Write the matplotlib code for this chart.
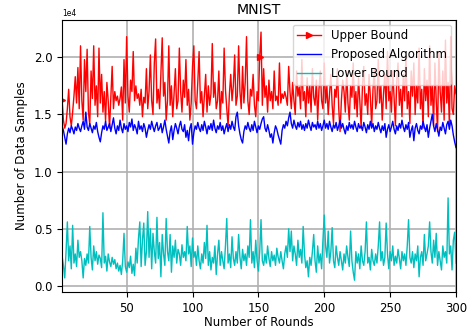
import numpy as np
from matplotlib import pyplot as plt

# values, in units of 1e4 samples
upper = [1.63, 1.45, 1.38, 1.42, 1.55, 1.72, 1.48, 1.40, 1.52, 1.66, 1.83, 1.60, 1.91, 1.55, 2.10, 1.62, 1.45, 1.98, 1.70, 2.07,
         1.52, 1.41, 1.88, 1.64, 2.10, 1.58, 1.75, 1.48, 2.08, 1.60, 1.85, 1.52, 1.70, 1.44, 1.78, 1.62, 1.38, 1.66, 1.92, 1.55,
         1.70, 1.62, 1.66, 1.58, 1.64, 1.74, 1.45, 1.98, 1.60, 2.18, 1.66, 1.52, 1.80, 1.70, 2.05, 1.62, 1.75, 1.64, 1.68, 1.58,
         1.72, 1.48, 1.65, 1.60, 1.90, 1.55, 1.70, 2.02, 1.62, 1.50, 1.95, 2.16, 1.60, 1.72, 1.55, 1.85, 2.17, 1.66, 1.78, 1.45,
         1.62, 2.10, 1.58, 1.75, 1.48, 1.68, 1.90, 1.55, 1.62, 2.08, 1.70, 1.52, 1.80, 1.65, 1.98, 1.58, 1.72, 1.45, 1.60, 1.92,
         2.10, 1.62, 1.55, 1.78, 2.05, 1.60, 1.70, 1.48, 1.66, 1.85, 1.52, 1.75, 1.58, 1.68, 2.12, 1.65, 1.78, 1.55, 1.62, 1.88,
         1.46, 1.70, 1.60, 2.08, 1.72, 1.55, 1.40, 1.68, 1.85, 1.62, 1.75, 2.02, 1.58, 1.66, 2.10, 1.70, 1.55, 1.92, 1.60, 1.78,
         2.18, 1.62, 1.50, 1.72, 1.66, 1.85, 1.58, 1.48, 1.70, 1.62, 2.00, 2.22, 1.58, 1.90, 1.65, 1.75, 1.52, 1.80, 1.62, 1.70,
         1.55, 1.88, 1.62, 1.66, 1.58, 1.95, 1.60, 1.68, 1.64, 1.70, 1.65, 1.58, 1.92, 1.70, 1.55, 1.78, 1.62, 1.50, 1.88, 1.66,
         1.74, 1.55, 1.98, 1.62, 1.70, 1.48, 1.82, 1.60, 1.75, 1.52, 1.90, 1.65, 1.58, 1.80, 1.45, 1.72, 1.88, 1.62, 1.55, 1.95,
         1.60, 1.75, 1.50, 1.68, 1.85, 1.58, 1.42, 1.72, 1.65, 1.90, 1.55, 1.35, 1.62, 1.80, 1.70, 1.52, 1.88, 1.60, 1.45, 1.75,
         1.65, 1.95, 1.55, 1.70, 1.48, 1.82, 1.62, 1.38, 1.75, 1.92, 1.58, 1.68, 1.50, 1.85, 1.65, 1.40, 1.72, 1.90, 1.55, 1.62,
         1.98, 1.60, 1.75, 1.45, 1.68, 1.85, 1.55, 2.05, 1.62, 1.70, 1.52, 1.88, 1.65, 1.40, 1.78, 1.95, 1.58, 1.72, 1.48, 1.85,
         1.62, 2.02, 1.55, 1.70, 1.42, 1.88, 1.66, 1.95, 1.50, 1.75, 1.60, 2.08, 1.55, 1.72, 1.38, 1.90, 1.62, 1.80, 1.48, 2.10,
         1.58, 1.75, 1.40, 1.95, 1.62, 1.35, 2.05, 1.70, 1.52, 1.88, 1.45, 2.15, 1.60, 1.78, 1.40, 2.18, 1.55, 1.50, 1.75, 1.68]

proposed = [1.40, 1.36, 1.30, 1.24, 1.33, 1.38, 1.34, 1.40, 1.37, 1.33, 1.39, 1.36, 1.42, 1.38, 1.35, 1.40, 1.44, 1.37, 1.52, 1.39,
            1.36, 1.42, 1.38, 1.34, 1.40, 1.37, 1.43, 1.35, 1.30, 1.26, 1.34, 1.40, 1.37, 1.44, 1.36, 1.39, 1.42, 1.35, 1.41, 1.47,
            1.38, 1.33, 1.40, 1.36, 1.45, 1.38, 1.34, 1.42, 1.37, 1.40, 1.35, 1.43, 1.39, 1.46, 1.36, 1.41, 1.38, 1.33, 1.44, 1.37,
            1.40, 1.35, 1.42, 1.38, 1.30, 1.36, 1.41, 1.37, 1.44, 1.39, 1.35, 1.40, 1.43, 1.36, 1.38, 1.42, 1.34, 1.39, 1.45, 1.37,
            1.31, 1.25, 1.35, 1.40, 1.28, 1.36, 1.42, 1.38, 1.33, 1.40, 1.44, 1.37, 1.35, 1.41, 1.30, 1.36, 1.27, 1.38, 1.42, 1.24,
            1.34, 1.40, 1.37, 1.43, 1.38, 1.35, 1.41, 1.36, 1.44, 1.39, 1.33, 1.40, 1.37, 1.42, 1.36, 1.45, 1.38, 1.34, 1.40, 1.37,
            1.43, 1.36, 1.40, 1.33, 1.38, 1.42, 1.35, 1.41, 1.37, 1.44, 1.39, 1.36, 1.48, 1.52, 1.40, 1.33, 1.28, 1.25, 1.35, 1.40,
            1.37, 1.43, 1.38, 1.35, 1.41, 1.36, 1.44, 1.39, 1.34, 1.40, 1.37, 1.42, 1.46, 1.48, 1.38, 1.35, 1.41, 1.36, 1.30, 1.33,
            1.25, 1.34, 1.40, 1.37, 1.32, 1.28, 1.24, 1.36, 1.41, 1.38, 1.44, 1.40, 1.47, 1.52, 1.42, 1.38, 1.45, 1.40, 1.37, 1.43,
            1.39, 1.44, 1.37, 1.41, 1.36, 1.42, 1.38, 1.45, 1.40, 1.36, 1.43, 1.39, 1.41, 1.37, 1.44, 1.38, 1.42, 1.36, 1.40, 1.45,
            1.38, 1.42, 1.37, 1.44, 1.39, 1.35, 1.41, 1.38, 1.43, 1.36, 1.40, 1.45, 1.38, 1.42, 1.37, 1.33, 1.40, 1.36, 1.43, 1.38,
            1.41, 1.37, 1.44, 1.39, 1.35, 1.42, 1.38, 1.40, 1.36, 1.43, 1.39, 1.34, 1.41, 1.37, 1.44, 1.38, 1.42, 1.35, 1.40, 1.37,
            1.43, 1.38, 1.34, 1.40, 1.36, 1.42, 1.30, 1.37, 1.41, 1.35, 1.39, 1.44, 1.37, 1.33, 1.40, 1.36, 1.42, 1.38, 1.45, 1.39,
            1.35, 1.41, 1.37, 1.43, 1.30, 1.36, 1.40, 1.27, 1.38, 1.42, 1.36, 1.33, 1.40, 1.37, 1.44, 1.39, 1.35, 1.41, 1.30, 1.38,
            1.44, 1.50, 1.40, 1.35, 1.42, 1.37, 1.31, 1.39, 1.36, 1.43, 1.38, 1.33, 1.41, 1.44, 1.37, 1.45, 1.40, 1.32, 1.26, 1.21]

lower = [0.26, 0.18, 0.07, 0.30, 0.56, 0.22, 0.35, 0.15, 0.53, 0.20, 0.28, 0.17, 0.40, 0.25, 0.30, 0.22, 0.07, 0.24, 0.18, 0.28,
         0.20, 0.52, 0.25, 0.14, 0.35, 0.22, 0.30, 0.19, 0.27, 0.24, 0.16, 0.64, 0.20, 0.26, 0.13, 0.28, 0.21, 0.17, 0.25, 0.19,
         0.23, 0.15, 0.20, 0.13, 0.18, 0.10, 0.22, 0.46, 0.17, 0.12, 0.21, 0.16, 0.26, 0.11, 0.19, 0.09, 0.33, 0.20, 0.42, 0.56,
         0.17, 0.40, 0.55, 0.18, 0.30, 0.65, 0.25, 0.50, 0.15, 0.46, 0.30, 0.20, 0.60, 0.24, 0.38, 0.08, 0.45, 0.28, 0.18, 0.59,
         0.30, 0.22, 0.45, 0.12, 0.35, 0.25, 0.40, 0.20, 0.32, 0.28, 0.18, 0.36, 0.25, 0.30, 0.22, 0.52, 0.28, 0.35, 0.17, 0.42,
         0.25, 0.30, 0.18, 0.35, 0.22, 0.15, 0.28, 0.20, 0.38, 0.24, 0.53, 0.18, 0.30, 0.14, 0.25, 0.20, 0.35, 0.10, 0.28, 0.40,
         0.18, 0.30, 0.22, 0.15, 0.35, 0.59, 0.20, 0.28, 0.16, 0.43, 0.24, 0.18, 0.30, 0.20, 0.45, 0.25, 0.15, 0.32, 0.22, 0.28,
         0.18, 0.35, 0.25, 0.58, 0.20, 0.30, 0.16, 0.40, 0.22, 0.13, 0.30, 0.58, 0.22, 0.18, 0.28, 0.20, 0.35, 0.24, 0.17, 0.30,
         0.22, 0.27, 0.18, 0.33, 0.25, 0.20, 0.30, 0.22, 0.15, 0.28, 0.35, 0.25, 0.50, 0.30, 0.48, 0.22, 0.35, 0.28, 0.18, 0.40,
         0.25, 0.32, 0.20, 0.52, 0.28, 0.16, 0.22, 0.08, 0.25, 0.18, 0.30, 0.45, 0.22, 0.12, 0.35, 0.20, 0.28, 0.15, 0.40, 0.62,
         0.35, 0.25, 0.48, 0.20, 0.30, 0.51, 0.22, 0.16, 0.35, 0.25, 0.18, 0.30, 0.22, 0.14, 0.28, 0.20, 0.35, 0.25, 0.17, 0.48,
         0.22, 0.12, 0.05, 0.30, 0.20, 0.28, 0.15, 0.35, 0.22, 0.18, 0.30, 0.56, 0.20, 0.25, 0.14, 0.32, 0.22, 0.18, 0.28, 0.20,
         0.35, 0.56, 0.22, 0.30, 0.18, 0.25, 0.55, 0.28, 0.15, 0.30, 0.22, 0.35, 0.18, 0.26, 0.20, 0.32, 0.24, 0.15, 0.30, 0.22,
         0.28, 0.18, 0.35, 0.58, 0.25, 0.20, 0.30, 0.16, 0.28, 0.22, 0.35, 0.08, 0.25, 0.30, 0.18, 0.45, 0.22, 0.28, 0.35, 0.56,
         0.30, 0.20, 0.40, 0.25, 0.46, 0.18, 0.30, 0.22, 0.14, 0.35, 0.25, 0.30, 0.20, 0.77, 0.28, 0.35, 0.14, 0.40, 0.47, 0.20]

rounds = np.arange(1, len(upper) + 1)
scale = 1e4

plt.rcParams['font.size'] = 8.5

fig = plt.figure(figsize=(4.74, 3.31), dpi=100)
ax = fig.add_axes([0.131, 0.118, 0.831, 0.822])

ax.plot(rounds, np.array(upper) * scale, 'r', lw=1.0, marker='>', markersize=4, markevery=150, label='Upper Bound')
ax.plot(rounds, np.array(proposed) * scale, 'b', lw=1.0, label='Proposed Algorithm')
ax.plot(rounds, np.array(lower) * scale, 'c', lw=1.0, label='Lower Bound')

ax.set_xlim(1, 300)
ax.set_ylim(-525, 23270)
ax.set_xticks([50, 100, 150, 200, 250, 300])
ax.set_yticks([0, 5000, 10000, 15000, 20000])
ax.ticklabel_format(axis='y', style='sci', scilimits=(4, 4))
ax.yaxis.get_offset_text().set_fontsize(5.5)
ax.grid(True, color='#b0b0b0', lw=1.2)
ax.set_axisbelow(True)

ax.set_xlabel('Number of Rounds', labelpad=1)
ax.set_ylabel('Number of Data Samples')
ax.set_title('MNIST', pad=4)
ax.legend(loc='upper right', borderaxespad=0.4, handlelength=2.0)

plt.savefig('out.png', dpi=100)
